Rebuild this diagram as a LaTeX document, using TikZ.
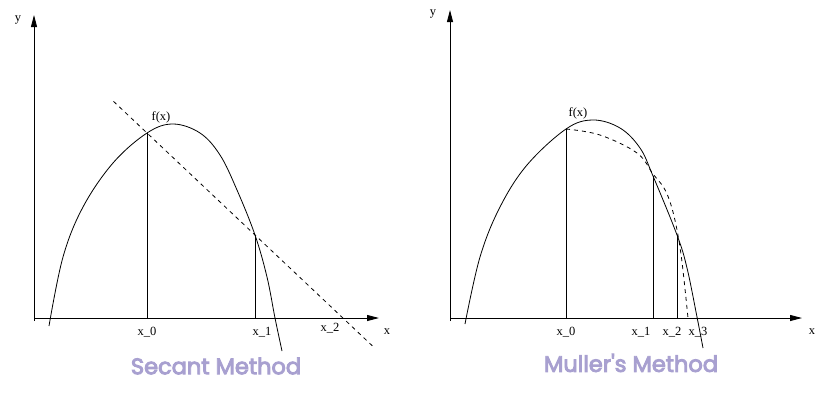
\documentclass[tikz,border=0pt]{standalone}
\usepackage{fontspec}
\setmainfont{Liberation Serif}
\newfontfamily\titlefont[UprightFeatures={FakeBold=4}]{Poppins}
\usepackage{tikz}
\usetikzlibrary{arrows.meta,calc}
\definecolor{lavender}{RGB}{168,160,208}

\begin{document}
\begin{tikzpicture}
[x=1pt,y=-1pt,>={Triangle[length=12pt,width=6pt]},line width=0.9pt]
  \tikzstyle{every node}=[inner sep=0pt,font=\fontsize{12.5}{13}\selectfont]
  \tikzstyle{curve}=[line width=0.8pt]
  \tikzstyle{guess}=[line width=0.8pt,dash pattern=on 4pt off 4pt]
  \tikzstyle{title}=[text=lavender,font=\titlefont\fontsize{22.5}{24}\selectfont]

  \useasboundingbox (0,0) rectangle (840,405);

  % secant method
  \coordinate (O1)  at (34,318);
  \coordinate (Y1)  at (34,15);
  \coordinate (X1)  at (379,318);
  \coordinate (fa0) at (147,133);
  \coordinate (fa1) at (255,235);
  \coordinate (xa0) at (147,318);
  \coordinate (xa1) at (255,318);
  \draw[->] ($(O1)+(0,3)$) -- (Y1);
  \draw[->] (O1) -- (X1);
  \draw[curve] plot[smooth,tension=0.6] coordinates {(49,326) (63,257) (83,207)
    (113,163) (147,133) (173,124) (200,133) (220,155) (237,190) (255,235)
    (267,277) (275,318) (282,351)};
  \draw[curve] (fa0) -- (xa0);
  \draw[curve] (fa1) -- (xa1);
  \draw[guess] ($(fa0)!-0.31!(fa1)$) -- ($(fa0)!2.11!(fa1)$);
  \node (ya) at (18,20) {y};
  \node (xa) at (387,332) {x};
  \node (fxa) at (161,117) {f(x)};
  \node (la0) at (147,332) {x\_0};
  \node (la1) at (262,332) {x\_1};
  \node (la2) at (330,328) {x\_2};
  \node[title] (secant) at (216,366) {Secant Method};

  % muller's method
  \coordinate (O2)  at (450,318);
  \coordinate (Y2)  at (450,10);
  \coordinate (X2)  at (802,318);
  \coordinate (fb0) at (566,129);
  \coordinate (fb1) at (653,176);
  \coordinate (fb2) at (677,235);
  \coordinate (xb0) at (566,318);
  \coordinate (xb1) at (653,318);
  \coordinate (xb2) at (677,318);
  \draw[->] ($(O2)+(0,3)$) -- (Y2);
  \draw[->] (O2) -- (X2);
  \draw[curve] plot[smooth,tension=0.6] coordinates {(465,324) (480,257) (500,207)
    (527,165) (566,129) (593,120) (620,128) (640,148) (653,176) (677,235)
    (687,268) (697,317) (703,348)};
  \draw[guess] plot[smooth,tension=0.6] coordinates {(566,129) (600,135) (637,153)
    (653,174) (664,188) (671,205) (677,230) (682,262) (688,318)};
  \draw[curve] (fb0) -- (xb0);
  \draw[curve] (fb1) -- (xb1);
  \draw[curve] (fb2) -- (xb2);
  \node (yb) at (433,14) {y};
  \node (xb) at (812,332) {x};
  \node (fxb) at (578,113) {f(x)};
  \node (lb0) at (566,332) {x\_0};
  \node (lb1) at (641,332) {x\_1};
  \node (lb2) at (672,332) {x\_2};
  \node (lb3) at (698,332) {x\_3};
  \node[title] (muller) at (631,363) {Muller's Method};
\end{tikzpicture}
\end{document}
